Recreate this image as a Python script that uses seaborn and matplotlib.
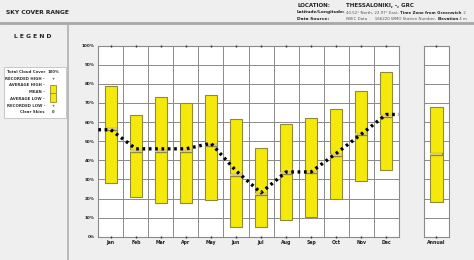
import numpy as np
import pandas as pd
import matplotlib
matplotlib.use("Agg")
import matplotlib.pyplot as plt
import seaborn as sns
from matplotlib.patches import Rectangle

sns.set_theme(style="white")
plt.rcParams['font.family'] = ['DejaVu Sans']

months = ["Jan", "Feb", "Mar", "Apr", "May", "Jun", "Jul", "Aug", "Sep", "Oct", "Nov", "Dec"]
avg_high = [78.7, 63.5, 73.0, 69.8, 74.0, 61.8, 46.2, 58.8, 62.0, 66.7, 76.4, 86.0]
avg_low = [28.1, 20.6, 17.8, 17.6, 19.0, 5.1, 4.9, 8.6, 10.5, 19.5, 29.1, 35.1]
mean = [56.4, 44.9, 44.7, 44.9, 48.0, 32.3, 22.2, 33.2, 33.9, 42.6, 53.6, 63.0]
trend = [56.0, 46.0, 46.0, 46.0, 48.9, 34.5, 23.0, 33.9, 33.9, 43.6, 53.6, 64.0]
rec_high = [100] * 12
rec_low = [0] * 12
annual_label = ["Annual"]
annual_high = [68.1]
annual_low = [18.0]
annual_mean = [43.5]
yticks = [0, 10, 20, 30, 40, 50, 60, 70, 80, 90, 100]

W, H = 474, 260
BG = "#EFEFEF"
YEL = "#F5E90C"
EDGE = "#8E8A3A"
MEANC = "#D9CB8A"
GRID = "#8A8A8A"

fig = plt.figure(figsize=(W / 100, H / 100), dpi=100, facecolor=BG)
renderer = fig.canvas.get_renderer()


def fx(px):
    return px / W


def fy(py):
    return 1 - py / H


def chain(x0, yy, parts, size):
    """Write text segments one after another, starting at pixel x0."""
    x = x0
    for txt, bold, col in parts:
        t = fig.text(fx(x), fy(yy), txt, fontsize=size, fontweight="bold" if bold else "normal",
                     va="center", ha="left", color=col)
        bb = t.get_window_extent(renderer=renderer)
        x += bb.width


# header strip
fig.add_artist(plt.Line2D([0, 1], [fy(22.5), fy(22.5)], color="#A8A8A8", lw=2.0))
fig.text(fx(6), fy(12), "SKY COVER RANGE", fontsize=4.3, fontweight="bold", va="center", ha="left", color="#222222")
fig.text(fx(297), fy(5.5), "LOCATION:", fontsize=4.0, fontweight="bold", va="center", ha="left", color="#222222")
fig.text(fx(297), fy(12.5), "Latitude/Longitude:", fontsize=3.2, fontweight="bold", va="center", ha="left", color="#222222")
fig.text(fx(297), fy(19.0), "Data Source:", fontsize=3.2, fontweight="bold", va="center", ha="left", color="#222222")
fig.text(fx(346), fy(5.5), "THESSALONIKI, -, GRC", fontsize=4.0, fontweight="bold", va="center", ha="left", color="#222222")
chain(346, 12.5, [("40.52° North, 22.97° East, ", False, "#555555"),
                  ("Time Zone from Greenwich", True, "#222222"), (" 2", False, "#555555")], 2.9)
chain(346, 19.0, [("IWEC Data      166220 WMO Station Number, ", False, "#555555"),
                  ("Elevation", True, "#222222"), (" 4 m", False, "#555555")], 2.9)

# legend panel
fig.add_artist(plt.Line2D([fx(67.5), fx(67.5)], [fy(23.5), 0], color="#B0B0B0", lw=1.2))
fig.text(fx(33), fy(36), "L E G E N D", fontsize=4.3, fontweight="bold", va="center", ha="center", color="#222222")
fig.add_artist(Rectangle((fx(4), fy(118)), fx(62), (118 - 67) / H, transform=fig.transFigure,
                         facecolor="white", edgecolor="#C0C0C0", lw=0.6))
leg_rows = [("Total Cloud Cover", "100%", 71.7), ("RECORDED HIGH -", "+", 79.0), ("AVERAGE HIGH -", "", 85.3),
            ("MEAN -", "", 92.3), ("AVERAGE LOW -", "", 99.0), ("RECORDED LOW -", "+", 105.7),
            ("Clear Skies", "0", 112.3)]
for lab, val, yy in leg_rows:
    fig.text(fx(45), fy(yy), lab, fontsize=2.8, fontweight="bold", va="center", ha="right", color="#333333")
    if val:
        fig.text(fx(53), fy(yy), val, fontsize=2.8, fontweight="bold", va="center", ha="center", color="#333333")
fig.add_artist(Rectangle((fx(50), fy(101.7)), fx(5.5), (101.7 - 85) / H, transform=fig.transFigure,
                         facecolor=YEL, edgecolor=EDGE, lw=0.6))
fig.add_artist(plt.Line2D([fx(50), fx(55.5)], [fy(93.3), fy(93.3)], color=EDGE, lw=0.6))

# main monthly axes
ax = fig.add_axes([fx(98.3), fy(236.7), fx(300.4), (236.7 - 45.7) / H])
df = pd.DataFrame({"month": months, "height": np.array(avg_high) - np.array(avg_low)})
sns.barplot(data=df, x="month", y="height", order=months, bottom=avg_low, width=0.5,
            color=YEL, edgecolor=EDGE, linewidth=0.8, saturation=1, ax=ax, zorder=3)
xs = np.arange(len(months))
ax.hlines(mean, xs - 0.25, xs + 0.25, color=EDGE, lw=2.4, zorder=4)
ax.hlines(mean, xs - 0.24, xs + 0.24, color=MEANC, lw=1.4, zorder=5)
tx = np.concatenate([[-0.5], xs, [len(months) - 0.5]])
ty = np.concatenate([[trend[0]], trend, [trend[-1]]])
sns.lineplot(x=tx, y=ty, ax=ax, color="black", lw=2.4, linestyle=(0, (0.8, 1.1)), zorder=6, sort=False)
ax.plot(xs, rec_high, linestyle="none", marker="|", ms=2, color="#333333", clip_on=False, zorder=7)
ax.plot(xs, rec_low, linestyle="none", marker="|", ms=2, color="#333333", clip_on=False, zorder=7)

# annual axes
ax2 = fig.add_axes([fx(423.7), fy(236.7), fx(25.3), (236.7 - 45.7) / H])
df2 = pd.DataFrame({"lab": annual_label, "height": np.array(annual_high) - np.array(annual_low)})
sns.barplot(data=df2, x="lab", y="height", bottom=annual_low, width=0.5,
            color=YEL, edgecolor=EDGE, linewidth=0.8, saturation=1, ax=ax2, zorder=3)
ax2.hlines(annual_mean, -0.25, 0.25, color=EDGE, lw=2.4, zorder=4)
ax2.hlines(annual_mean, -0.24, 0.24, color=MEANC, lw=1.4, zorder=5)
ax2.plot([0], [100], linestyle="none", marker="|", ms=2, color="#333333", clip_on=False, zorder=7)
ax2.plot([0], [0], linestyle="none", marker="|", ms=2, color="#333333", clip_on=False, zorder=7)

for a, n in ((ax, len(months)), (ax2, 1)):
    a.set_facecolor("white")
    a.set_xlim(-0.5, n - 0.5)
    a.set_ylim(0, 100)
    a.set_xlabel("")
    a.set_ylabel("")
    for yv in yticks[1:-1]:
        a.axhline(yv, color=GRID, lw=0.7, zorder=1)
    for xv in np.arange(n - 1) + 0.5:
        a.axvline(xv, color=GRID, lw=0.7, zorder=1)
    for s in a.spines.values():
        s.set_color(GRID)
        s.set_linewidth(0.8)
    a.tick_params(axis="x", length=0, labelsize=3.3, pad=2.5, colors="#222222")
    for t in a.get_xticklabels():
        t.set_fontweight("bold")

ax.set_yticks(yticks)
ax.set_yticklabels([f"{v}%" for v in yticks])
ax.tick_params(axis="y", length=0, labelsize=3.0, pad=2.5, colors="#222222")
for t in ax.get_yticklabels():
    t.set_fontweight("bold")
ax2.set_yticks([])

fig.savefig("out.png", dpi=100, facecolor=BG)
